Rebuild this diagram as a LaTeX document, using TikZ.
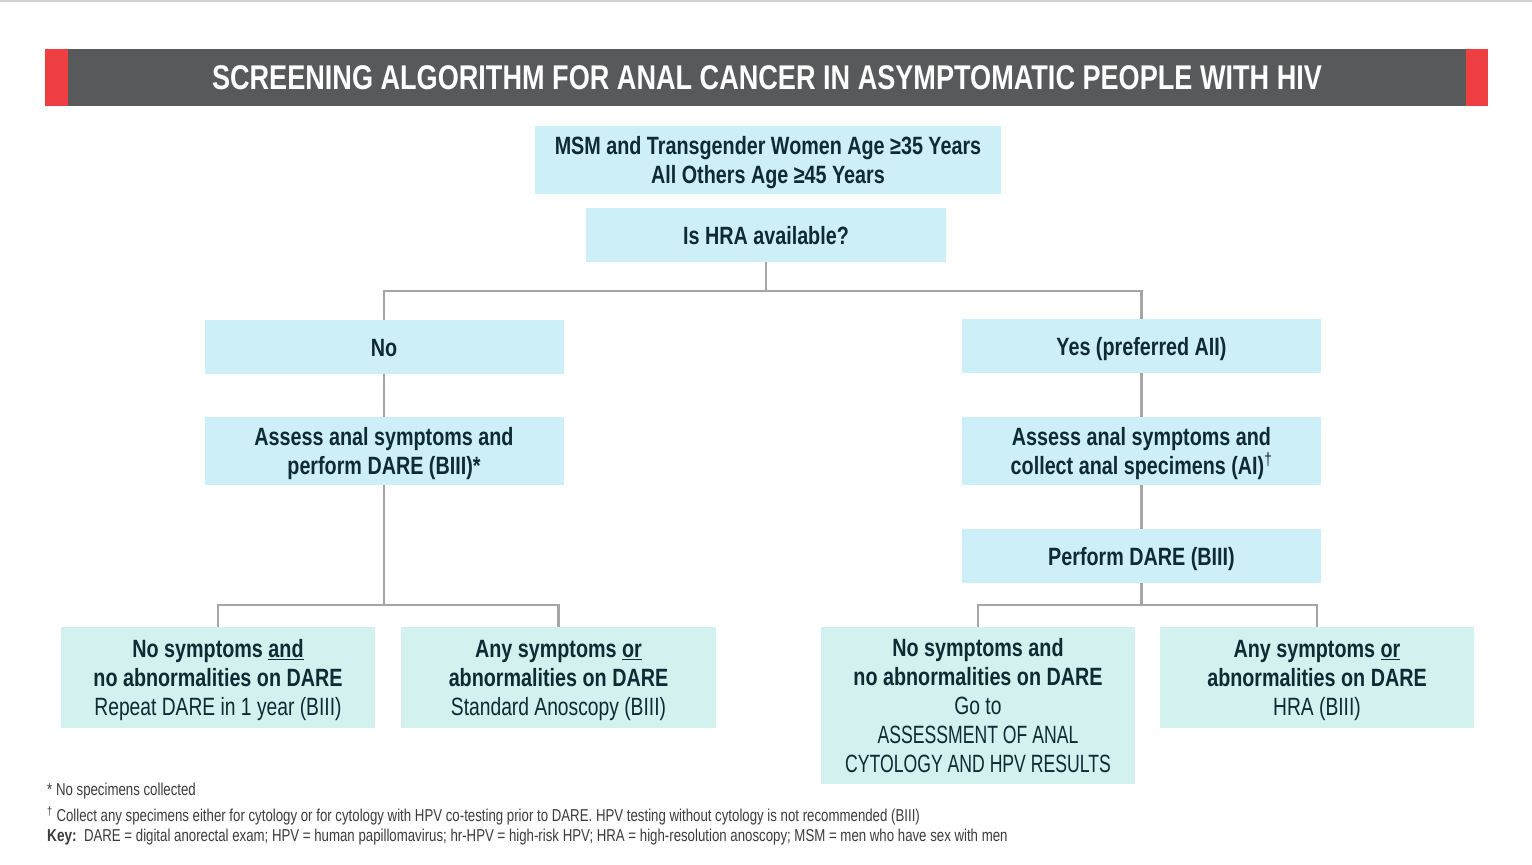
\documentclass[tikz,border=0pt]{standalone}
\usepackage{fontspec}
\setmainfont{Liberation Sans}[UprightFeatures={FakeStretch=0.77},BoldFeatures={FakeStretch=0.79}]
\newfontfamily\capsfont{Liberation Sans}[FakeStretch=0.705]
\usetikzlibrary{positioning}
\definecolor{bluebox}{HTML}{CCEFF8}
\definecolor{tealbox}{HTML}{D2F1EF}
\definecolor{txt}{HTML}{0E2A33}
\definecolor{barGray}{HTML}{58595B}
\definecolor{barRed}{HTML}{EE3E42}
\definecolor{lineGray}{HTML}{A5A5A5}
\definecolor{noteGray}{HTML}{3C3C3C}
\newcommand\ls{\rule[-5.5pt]{0pt}{29pt}}
\tikzset{
  box/.style={rectangle, inner sep=0pt, align=center, text=txt,
    font=\fontsize{25}{29}\selectfont},
  bluenode/.style={box, fill=bluebox},
  tealnode/.style={box, fill=tealbox},
  conn/.style={draw=lineGray, line width=2.5pt},
  note/.style={anchor=west, inner sep=0pt, text=noteGray, font=\fontsize{17.2}{20}\selectfont},
}
\begin{document}
\begin{tikzpicture}[x=1pt,y=-1pt]
\useasboundingbox (0,0) rectangle (1532,865);
\fill[white] (0,0) rectangle (1532,865);
\draw[draw=black!18, line width=1.5pt] (0,1) -- (1532,1);
% title bar
\fill[barGray] (45,49) rectangle (1488,106);
\fill[barRed] (45,49) rectangle (68,106);
\fill[barRed] (1466,49) rectangle (1488,106);
\node[text=white, inner sep=0pt, font=\fontsize{34.3}{40}\selectfont\bfseries] (title) at (767,78)
  {SCREENING ALGORITHM FOR ANAL CANCER IN ASYMPTOMATIC PEOPLE WITH HIV};
% boxes
\node[bluenode, minimum width=466pt, minimum height=68pt] (top) at (768,160)
  {\ls\bfseries MSM and Transgender Women Age ≥35 Years\\\ls\bfseries All Others Age ≥45 Years};
\node[bluenode, minimum width=360pt, minimum height=54pt] (hra) at (766,235)
  {\ls\bfseries Is HRA available?};
\node[bluenode, minimum width=359pt, minimum height=54pt] (no) at (384,347)
  {\ls\bfseries No};
\node[bluenode, minimum width=359pt, minimum height=54pt] (yes) at (1141.5,346)
  {\ls\bfseries Yes (preferred AII)};
\node[bluenode, minimum width=359pt, minimum height=68pt] (assessL) at (384,451)
  {\ls\bfseries Assess anal symptoms and\\\ls\bfseries perform DARE (BIII)*};
\node[bluenode, minimum width=359pt, minimum height=68pt] (assessR) at (1141.5,451)
  {\ls\bfseries Assess anal symptoms and\\\ls\bfseries collect anal specimens (AI)\textsuperscript{\mdseries †}};
\node[bluenode, minimum width=359pt, minimum height=54pt] (dareR) at (1141.5,556)
  {\ls\bfseries Perform DARE (BIII)};
\node[tealnode, minimum width=314pt, minimum height=101pt] (b1) at (218,677.5)
  {\ls\bfseries No symptoms \underline{and}\\\ls\bfseries no abnormalities on DARE\\\ls Repeat DARE in 1 year (BIII)};
\node[tealnode, minimum width=315pt, minimum height=101pt] (b2) at (558.5,677.5)
  {\ls\bfseries Any symptoms \underline{or}\\\ls\bfseries abnormalities on DARE\\\ls Standard Anoscopy (BIII)};
\node[tealnode, minimum width=314pt, minimum height=157pt] (b3) at (978,705.5)
  {\ls\bfseries No symptoms and\\\ls\bfseries no abnormalities on DARE\\\ls Go to\\\ls\capsfont ASSESSMENT OF ANAL\\\ls\capsfont CYTOLOGY AND HPV RESULTS};
\node[tealnode, minimum width=314pt, minimum height=101pt] (b4) at (1317,677.5)
  {\ls\bfseries Any symptoms \underline{or}\\\ls\bfseries abnormalities on DARE\\\ls HRA (BIII)};
% junctions
\coordinate (j1) at (766,291);
\coordinate (j2) at (384,605);
\coordinate (j3) at (1141.5,605);
% connectors
\draw[conn] (hra) -- (j1);
\draw[conn] (no.north) |- (j1) -| (yes.north);
\draw[conn] (no) -- (assessL);
\draw[conn] (yes) -- (assessR);
\draw[conn] (assessR) -- (dareR);
\draw[conn] (assessL) -- (j2);
\draw[conn] (b1.north) |- (j2) -| (b2.north);
\draw[conn] (dareR) -- (j3);
\draw[conn] (b3.north) |- (j3) -| (b4.north);
% notes
\node[note] (n1) at (47,791) {* No specimens collected};
\node[note] (n2) at (47,816) {\textsuperscript{†} Collect any specimens either for cytology or for cytology with HPV co-testing prior to DARE. HPV testing without cytology is not recommended (BIII)};
\node[note] (n3) at (47,837) {\bfseries Key:\mdseries\ \ DARE = digital anorectal exam; HPV = human papillomavirus; hr-HPV = high-risk HPV; HRA = high-resolution anoscopy; MSM = men who have sex with men};
\end{tikzpicture}
\end{document}
